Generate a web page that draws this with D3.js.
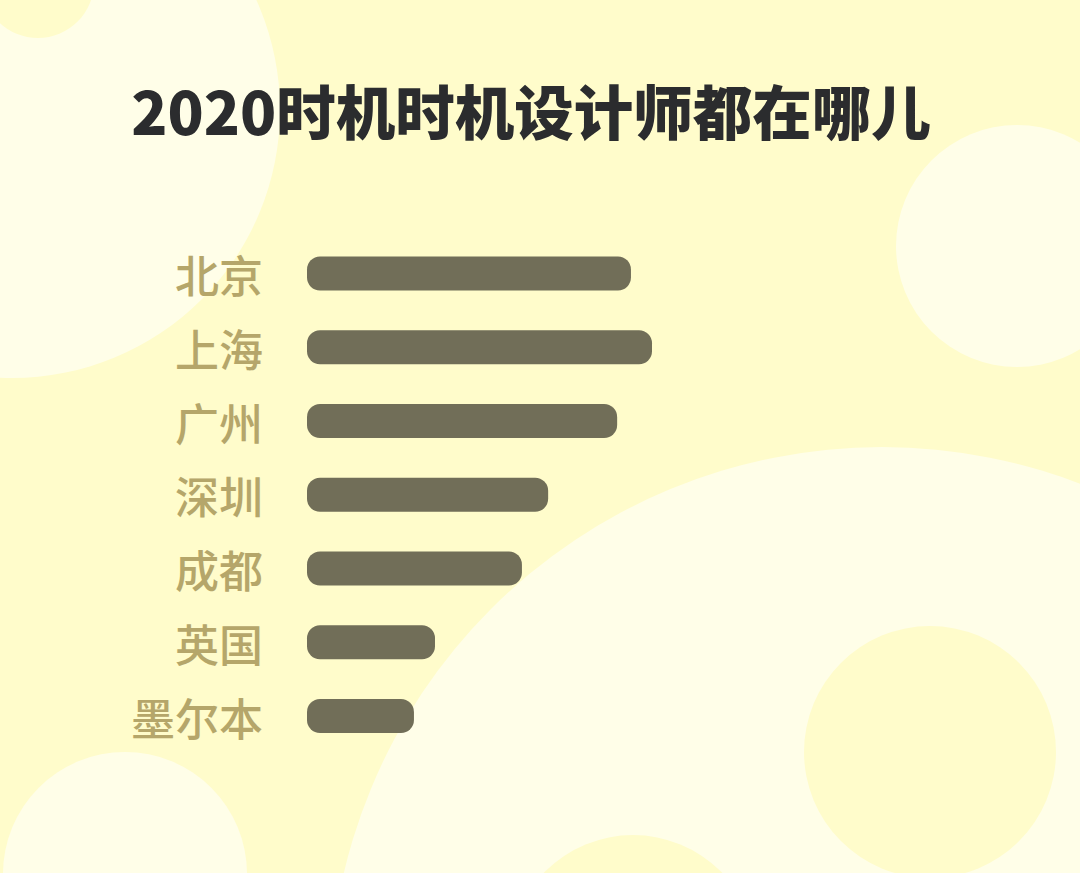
<html>
<head>
    <meta charset="utf-8">
    <title>2020时机设计师都在哪儿</title>
    <script src="https://d3js.org/d3.v7.min.js"></script>
    <style>
        body {
            margin: 0;
            background: #fffccb;
        }
        svg {
            display: block;
            font-family: "Noto Sans CJK SC", "Noto Sans", sans-serif;
        }
        .title {
            font-size: 59.5px;
            font-weight: 900;
            fill: #2b2c2e;
        }
        .label {
            font-size: 44px;
            font-weight: 500;
            fill: #b5a66a;
        }
        .bar {
            fill: #716e58;
        }
    </style>
</head>
<body>
<div id="chart"></div>
<script>
    var cities = ["北京", "上海", "广州", "深圳", "成都", "英国", "墨尔本"];
    var shares = [93.9, 100, 89.9, 69.9, 62.3, 37.1, 31.0];
    var titleText = "2020时机时机设计师都在哪儿";

    var width = 1080;
    var height = 873;

    var svg = d3.select("#chart").append("svg")
        .attr("width", width)
        .attr("height", height);

    /* background blobs */
    var bg = svg.append("g");
    bg.append("rect")
        .attr("width", width).attr("height", height)
        .attr("fill", "#fffccb");
    var blobs = [
        {x: 12, y: 110, r: 268, c: "#fffee8"},
        {x: 38, y: -18, r: 56, c: "#fffccb"},
        {x: 1017, y: 246, r: 121, c: "#fffee8"},
        {x: 882, y: 1000, r: 553, c: "#fffee8"},
        {x: 930, y: 752, r: 126, c: "#fffccb"},
        {x: 633, y: 959, r: 124, c: "#fffccb"},
        {x: 125, y: 874, r: 122, c: "#fffee8"}
    ];
    bg.selectAll("circle")
        .data(blobs).enter()
        .append("circle")
        .attr("cx", d => d.x)
        .attr("cy", d => d.y)
        .attr("r", d => d.r)
        .attr("fill", d => d.c);

    /* title */
    svg.append("text")
        .attr("class", "title")
        .attr("x", 531)
        .attr("y", 109)
        .attr("text-anchor", "middle")
        .attr("dominant-baseline", "central")
        .text(titleText);

    /* scales */
    var xScale = d3.scaleLinear()
        .domain([0, 100])
        .range([307, 652]);
    var yScale = d3.scalePoint()
        .domain(cities)
        .range([273.5, 716]);
    var barHeight = 34;

    svg.append("g")
        .selectAll("rect")
        .data(cities).enter()
        .append("rect")
        .attr("class", "bar")
        .attr("x", xScale(0))
        .attr("y", d => yScale(d) - barHeight / 2)
        .attr("width", (d, i) => xScale(shares[i]) - xScale(0))
        .attr("height", barHeight)
        .attr("rx", 13)
        .attr("ry", 13);

    /* category labels via a left axis */
    var yAxis = d3.axisLeft(yScale).tickSize(0).tickPadding(0);
    var ax = svg.append("g")
        .attr("transform", "translate(263,0)")
        .call(yAxis);
    ax.select(".domain").remove();
    ax.selectAll("text")
        .attr("class", "label")
        .attr("dy", null)
        .attr("dominant-baseline", "central")
        .attr("fill", null)
        .style("font-family", "\"Noto Sans CJK SC\", sans-serif");
    ax.attr("font-size", null).attr("font-family", null);
</script>
</body>
</html>
